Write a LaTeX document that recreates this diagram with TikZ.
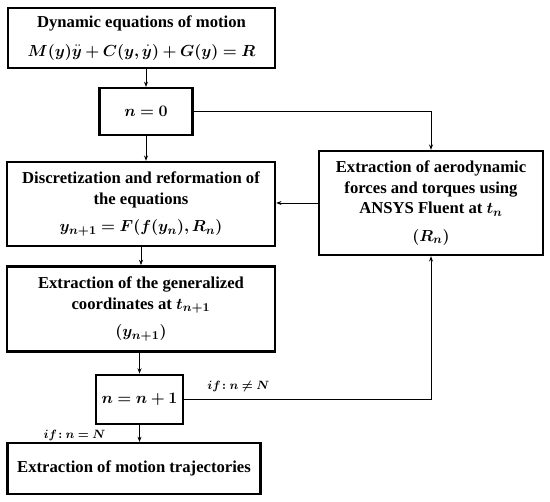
\documentclass[tikz,border=0pt]{standalone}
\usepackage{fontspec}
\usepackage{amsmath}
\usepackage{bm}
\setmainfont{Liberation Serif}
\usetikzlibrary{positioning}
\usetikzlibrary{arrows.meta}
\tikzset{x=0.75pt,y=-0.75pt, % One unit is one pixel of the layout
      every node/.style={font=\fontsize{12.5}{15.5}\selectfont\bfseries},
      block/.style={ % Sets the properties for each box
      draw, line width=1.8pt,
      align=center, inner sep=2pt},
      flow/.style={ % Sets the properties for each connector
      draw, ->, >={Stealth[length=4pt,width=3pt]},
      semithick},
      cond/.style={font=\fontsize{9.5}{11}\selectfont}}

\begin{document}
\begin{tikzpicture}
      \useasboundingbox (0,0) rectangle (550,501);
      \node[block, minimum width=200pt, minimum height=45pt] (dyn) at (141.5,38)
            {Dynamic equations of motion\\[6pt] $\bm{M(y)\ddot{y}+C(y,\dot{y})+G(y)=R}$};
      \node[block, minimum width=70pt, minimum height=35pt] (n0) at (146,111.5) {$\bm{n=0}$};
      \node[block, minimum width=201pt, minimum height=63pt] (disc) at (141,204)
            {Discretization and reformation of\\ the equations\\[5pt] $\bm{y_{n+1}=F(f(y_n),R_n)}$};
      \node[block, minimum width=201pt, minimum height=64pt] (gen) at (141,309)
            {Extraction of the generalized\\ coordinates at $\bm{t_{n+1}}$\\[5pt] $\bm{(y_{n+1})}$};
      \node[block, minimum width=65pt, minimum height=37pt] (inc) at (139.5,399.5) {$\bm{n=n+1}$};
      \node[block, minimum width=190pt, minimum height=38pt] (traj) at (134,468.5)
            {Extraction of motion trajectories};
      \node[block, minimum width=168pt, minimum height=78pt] (aero) at (431,203)
            {Extraction of aerodynamic\\ forces and torques using\\ ANSYS Fluent at $\bm{t_n}$\\[5pt] $\bm{(R_n)}$};
      \draw[flow] (n0.north |- dyn.south) -- (n0.north);
      \draw[flow] (n0.south) -- (n0.south |- disc.north);
      \draw[flow] (disc.south) -- (gen.north);
      \draw[flow] (inc.north |- gen.south) -- (inc.north);
      \draw[flow] (inc.south) -- (inc.south |- traj.north);
      \draw[flow] (n0.east) -- (aero.north |- n0.east) -- (aero.north);
      \draw[flow] (aero.west) -- (aero.west -| disc.east);
      \draw[flow] (inc.east) -- (aero.south |- inc.east) -- (aero.south);
      \node[cond, above right=2pt and 14pt of inc.east] (ne) {$\bm{if\!:n\neq N}$};
      \node[cond, below left=0pt and 22pt of inc.south] (eq) {$\bm{if\!:n=N}$};
\end{tikzpicture}
\end{document}
